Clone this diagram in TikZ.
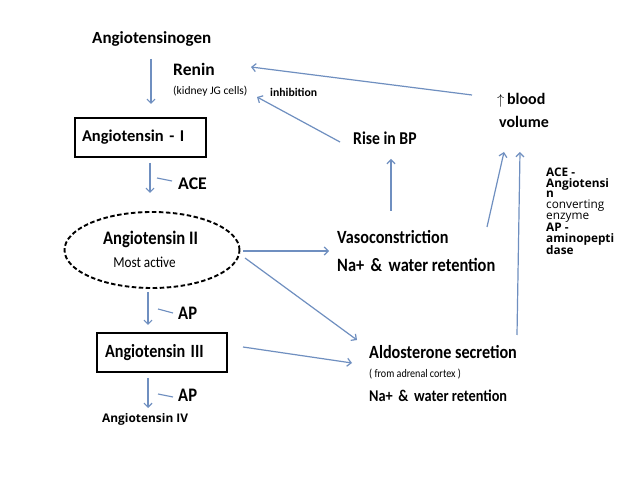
\documentclass[tikz,border=0pt]{standalone}
\usepackage{fontspec}
\usepackage{graphicx}
\setmainfont{Carlito}
\newfontfamily\osans{Open Sans}
\usetikzlibrary{arrows.meta,shapes.geometric}
\definecolor{arr}{HTML}{6F8FC0}
\newcommand{\tl}[1]{\scalebox{1}[1.15]{#1}}
\newcommand{\fs}[1]{\fontsize{#1}{#1}\selectfont}
\tikzset{
  flow/.style={draw=arr, line width=1.2pt, -{Straight Barb[length=4pt,width=8pt]}},
  tick/.style={draw=arr, line width=1.1pt},
  txt/.style={inner sep=0pt, anchor=base west},
  boxed/.style={draw, line width=1.2pt, inner sep=0pt, align=left}
}
\begin{document}
\begin{tikzpicture}[x=1pt,y=-1pt]
\useasboundingbox[fill=white] (0,0) rectangle (638,478);
% left column
\node[txt, font=\bfseries\fs{17}] (agn) at (92,44) {Angiotensinogen};
\node[txt, font=\bfseries\fs{17.5}] (renin) at (173,76) {Renin};
\node[txt, font=\fs{11.5}] (jg) at (173,95) {(kidney JG cells)};
\node[txt, font=\bfseries\fs{11.7}] (inh) at (270,97) {inhibition};
\node[boxed, minimum width=131pt, minimum height=39pt, text width=117pt, font=\bfseries\fs{16.5}] (a1) at (140.5,137.5) {Angiotensin - I};
\node[txt, font=\bfseries\fs{17.8}] (ace) at (178,190) {ACE};
\node[draw, ellipse, line width=1.9pt, dash pattern=on 4.5pt off 2.5pt, minimum width=175pt, minimum height=76pt, inner sep=0pt] (a2) at (152,250) {};
\node[inner sep=0pt, anchor=base, font=\bfseries\fs{16.6}] (a2t) at (150.5,245) {\tl{Angiotensin II}};
\node[inner sep=0pt, anchor=base, font=\fs{13.2}] (most) at (144.5,268) {\tl{Most active}};
\node[txt, font=\bfseries\fs{16.6}] (ap1) at (178,320) {\tl{AP}};
\node[boxed, minimum width=130pt, minimum height=39pt, text width=114pt, font=\bfseries\fs{16.2}] (a3) at (162,352.5) {\tl{Angiotensin III}};
\node[txt, font=\bfseries\fs{16.6}] (ap2) at (178,402) {\tl{AP}};
\node[txt, font=\osans\bfseries\fs{11.9}] (a4) at (102,423) {Angiotensin IV};
% right side
\node[txt, font=\bfseries\fs{15.7}] (rise) at (353,145) {\tl{Rise in BP}};
\node[txt, font=\bfseries\fs{16}] (bv1) at (497,105) {{\normalfont\fs{14}$\uparrow$}\,blood};
\node[txt, font=\bfseries\fs{16}] (bv2) at (499,128) {volume};
\node[txt, font=\bfseries\fs{16.2}] (vaso) at (337,244) {\tl{Vasoconstriction}};
\node[txt, font=\bfseries\fs{16.4}] (na1) at (337,272) {\tl{Na+ \,\&\, water retention}};
\node[txt, font=\bfseries\fs{16.2}] (aldo) at (369,359) {\tl{Aldosterone secretion}};
\node[txt, font=\fs{10.1}] (adr) at (369,378) {\tl{( from adrenal cortex )}};
\node[txt, font=\bfseries\fs{14.3}] (na2) at (369,402) {\tl{Na+ \,\&\, water retention}};
\node[anchor=north west, inner sep=0pt, align=left, font=\osans\fontsize{11.8}{10.6}\selectfont] (leg) at (546,168)
  {\textbf{ACE -}\\\textbf{Angiotensi}\\\textbf{n}\\converting\\enzyme\\\textbf{AP -}\\\textbf{aminopepti}\\\textbf{dase}};
% connector points
\coordinate (p1) at (151,59); \coordinate (p2) at (151,104);
\coordinate (p3) at (150,163); \coordinate (p4) at (150,193);
\coordinate (p5) at (148,292); \coordinate (p6) at (148,325);
\coordinate (p7) at (148,378); \coordinate (p8) at (148,408);
\coordinate (t1a) at (157,178); \coordinate (t1b) at (172,181);
\coordinate (t2a) at (158,309); \coordinate (t2b) at (173,313);
\coordinate (t3a) at (158,394); \coordinate (t3b) at (173,397);
\coordinate (bvA) at (472,95); \coordinate (reninA) at (251,67);
\coordinate (riseA) at (340,142); \coordinate (jgA) at (257,97);
\coordinate (vasoTop) at (391,211); \coordinate (riseBot) at (391,159);
\coordinate (vasoR) at (487,227); \coordinate (bvB) at (504,152);
\coordinate (aldoR) at (517,335); \coordinate (bvC) at (520,152);
\coordinate (a2R) at (243,251); \coordinate (vasoL) at (329,251);
\coordinate (a2RB) at (245,258); \coordinate (aldoL1) at (357,340);
\coordinate (a3R) at (243,347); \coordinate (aldoL2) at (352,363);
\draw[flow] (p1) -- (p2);
\draw[flow] (p3) -- (p4);
\draw[flow] (p5) -- (p6);
\draw[flow] (p7) -- (p8);
\draw[tick] (t1a) -- (t1b);
\draw[tick] (t2a) -- (t2b);
\draw[tick] (t3a) -- (t3b);
\draw[flow] (bvA) -- (reninA);
\draw[flow] (riseA) -- (jgA);
\draw[flow] (vasoTop) -- (riseBot);
\draw[flow] (vasoR) -- (bvB);
\draw[flow] (aldoR) -- (bvC);
\draw[flow] (a2R) -- (vasoL);
\draw[flow] (a2RB) -- (aldoL1);
\draw[flow] (a3R) -- (aldoL2);
\end{tikzpicture}
\end{document}
